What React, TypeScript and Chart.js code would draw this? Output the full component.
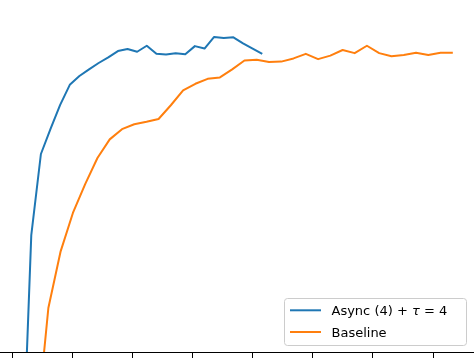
import React, { useEffect, useRef } from "react";
import { Chart, registerables } from "chart.js";

Chart.register(...registerables);

// x tick values (labels are not visible in the reference crop)
const X_TICKS = [0, 25, 50, 75, 100, 125, 150, 175];

const ASYNC_LABEL = "Async (4) + τ = 4";
const BASELINE_LABEL = "Baseline";

const ASYNC_X = [4, 8, 12, 16, 20, 24, 28, 32, 36, 40, 44, 48, 52, 56, 60, 64, 68, 72, 76, 80, 84, 88, 92, 96, 100, 104];
const ASYNC_Y = [-0.398, 0.332, 0.5625, 0.634, 0.702, 0.759, 0.784, 0.803, 0.821, 0.837, 0.855, 0.861, 0.853, 0.87, 0.847, 0.845, 0.849, 0.846, 0.869, 0.862, 0.895, 0.892, 0.894, 0.877, 0.862, 0.847];

const BASELINE_X = [10.0, 15.1, 20.2, 25.3, 30.4, 35.5, 40.6, 45.7, 50.8, 55.9, 60.9, 66.0, 71.1, 76.2, 81.3, 86.4, 91.5, 96.6, 101.7, 106.8, 111.9, 117.0, 122.1, 127.2, 132.3, 137.4, 142.4, 147.5, 152.6, 157.7, 162.8, 167.9, 173.0, 178.1, 183.2];
const BASELINE_Y = [-0.233, 0.125, 0.286, 0.395, 0.477, 0.551, 0.604, 0.633, 0.647, 0.654, 0.662, 0.701, 0.743, 0.762, 0.776, 0.78, 0.803, 0.828, 0.83, 0.824, 0.825, 0.834, 0.847, 0.832, 0.842, 0.858, 0.849, 0.87, 0.849, 0.84, 0.844, 0.85, 0.844, 0.85, 0.85];

const BLUE = "#1f77b4";
const ORANGE = "#ff7f0e";

const legendPlugin = {
  id: "mplLegend",
  afterDraw(chart: any) {
    const ctx = chart.ctx as CanvasRenderingContext2D;
    const bx = 284.5, by = 298.5, bw = 182, bh = 47;
    ctx.save();
    ctx.beginPath();
    (ctx as any).roundRect(bx, by, bw, bh, 3);
    ctx.fillStyle = "rgba(255,255,255,0.8)";
    ctx.fill();
    ctx.strokeStyle = "#cccccc";
    ctx.lineWidth = 1;
    ctx.stroke();
    const rows = [310.3, 332];
    chart.data.datasets.forEach((ds: any, i: number) => {
      const y = rows[i];
      ctx.beginPath();
      ctx.moveTo(290, y);
      ctx.lineTo(321, y);
      ctx.strokeStyle = ds.borderColor;
      ctx.lineWidth = 2;
      ctx.stroke();
      const label: string = ds.label;
      const base = y + 4.8;
      let x = 331.5;
      ctx.fillStyle = "#000";
      ctx.textBaseline = "alphabetic";
      const parts = label.split("τ");
      parts.forEach((p, j) => {
        ctx.font = '13px "DejaVu Sans"';
        ctx.fillText(p, x, base);
        x += ctx.measureText(p).width;
        if (j < parts.length - 1) {
          ctx.font = 'oblique 13px "DejaVu Sans"';
          ctx.fillText("τ", x, base);
          x += ctx.measureText("τ").width;
        }
      });
    });
    ctx.restore();
  },
};

export default function App() {
  const ref = useRef<HTMLCanvasElement | null>(null);
  useEffect(() => {
    if (!ref.current) return;
    const chart = new Chart(ref.current, {
      type: "line",
      data: {
        datasets: [
          {
            label: ASYNC_LABEL,
            data: ASYNC_X.map((x, i) => ({ x, y: ASYNC_Y[i] })),
            borderColor: BLUE,
            backgroundColor: BLUE,
            borderWidth: 2,
            pointRadius: 0,
            tension: 0,
            borderJoinStyle: "round",
            clip: 0,
          },
          {
            label: BASELINE_LABEL,
            data: BASELINE_X.map((x, i) => ({ x, y: BASELINE_Y[i] })),
            borderColor: ORANGE,
            backgroundColor: ORANGE,
            borderWidth: 2,
            pointRadius: 0,
            tension: 0,
            borderJoinStyle: "round",
            clip: 0,
          },
        ],
      },
      options: {
        responsive: false,
        animation: false,
        layout: { padding: 0 },
        plugins: { legend: { display: false }, tooltip: { enabled: false } },
        scales: {
          x: {
            type: "linear",
            min: -5,
            max: 192,
            position: "bottom",
            afterBuildTicks: (scale: any) => {
              scale.ticks = X_TICKS.map((v) => ({ value: v }));
            },
            grid: {
              display: true,
              drawOnChartArea: false,
              drawTicks: true,
              tickLength: 6,
              tickColor: "#000",
              tickWidth: 1,
            },
            border: { display: true, color: "#000", width: 1 },
            ticks: { display: false },
          },
          y: { display: false, min: 0, max: 1 },
        },
      },
      plugins: [legendPlugin],
    });
    return () => chart.destroy();
  }, []);
  return (
    <div style={{ position: "fixed", left: 0, top: 0, width: 474, height: 358, background: "#fff" }}>
      <canvas ref={ref} width={474} height={358} style={{ display: "block" }} />
    </div>
  );
}
